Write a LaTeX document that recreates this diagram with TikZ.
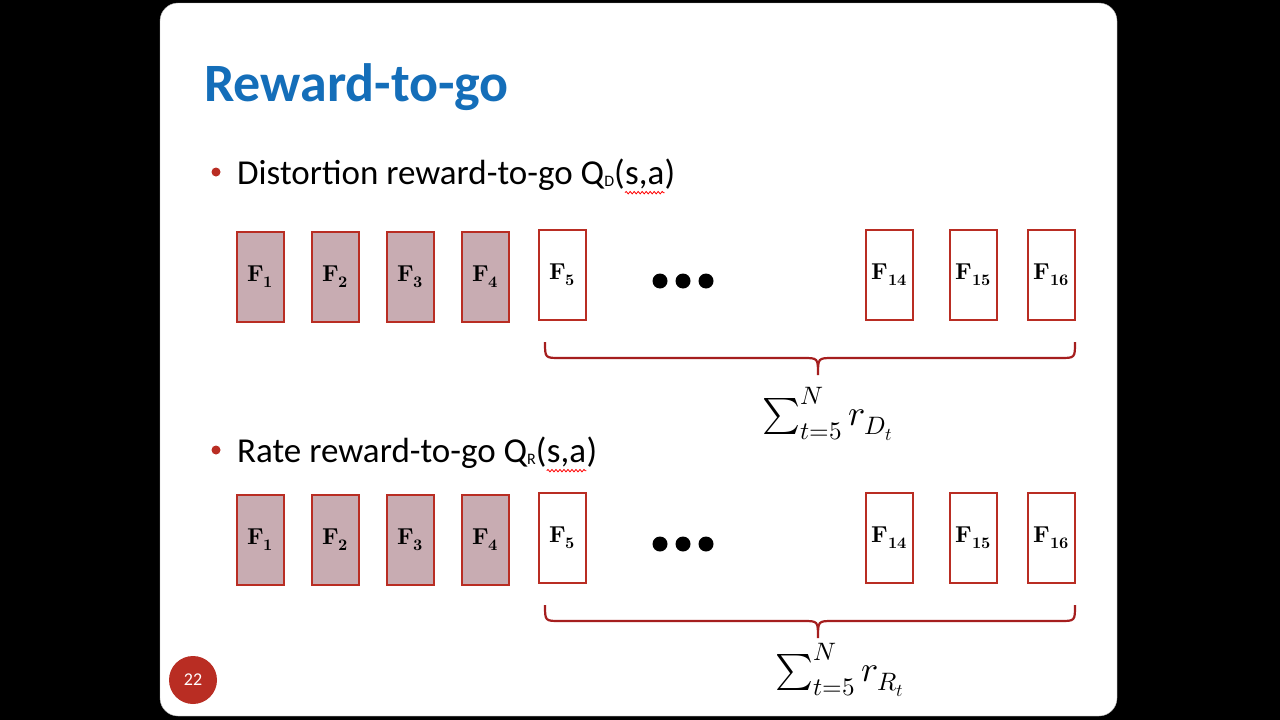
\documentclass[tikz,border=0pt]{standalone}
\usepackage{fontspec}
\setmainfont{Carlito}
\usepackage{unicode-math}
\setmathfont{Latin Modern Math}
\usetikzlibrary{decorations.pathmorphing}
\definecolor{tblue}{RGB}{20,110,185}
\definecolor{dred}{RGB}{185,45,35}
\definecolor{bred}{RGB}{165,30,30}
\definecolor{shade}{RGB}{200,172,178}
\tikzset{
 fr/.style={draw=dred,line width=1.6pt,minimum width=47pt,minimum height=90pt,inner sep=0pt,font=\fontsize{23}{25}\selectfont\bfseries\rmfamily},
 fs/.style={fr,fill=shade},
 brc/.style={draw=bred,line width=2.2pt},
 bul/.style={circle,fill=dred,inner sep=0pt,minimum size=9pt},
 btxt/.style={anchor=base west,inner sep=0pt,font=\fontsize{35}{37}\selectfont},
 dotc/.style={circle,fill=black,inner sep=0pt,minimum size=15pt},
 sq/.style={red,line width=0.8pt,decorate,decoration={snake,amplitude=1.2pt,segment length=4pt}}
}
\newcommand{\frm}[1]{$\symbf{F}_{\symbf{#1}}$}
\begin{document}
\begin{tikzpicture}[x=1pt,y=-1pt]
\fill[black] (0,0) rectangle (1280,720);
\useasboundingbox (0,0) rectangle (1280,720);
\draw[fill=white,draw=gray!60,rounded corners=18pt] (160,3) rectangle (1117,716);
\node[anchor=west,inner sep=0pt,text=tblue,font=\fontsize{54}{58}\selectfont\bfseries] (title) at (204,87) {Reward-to-go};
\foreach \row/\dy/\lbl/\sub/\by/\fy in {1/0/Distortion/D/172/415, 2/263/Rate/R/450/668}{
 \node[bul] (b\row) at (216,\by) {};
 \node[btxt] (t\row) at (237,\by+12) {\lbl\ reward-to-go Q\raisebox{-0.15ex}{\fontsize{16}{17}\selectfont \sub}(};
 \node[btxt] (u\row) at (t\row.base east) {s,a};
 \node[btxt] (v\row) at (u\row.base east) {)};
 \draw[sq] ([yshift=-4pt]u\row.south west) -- ([yshift=-4pt]u\row.south east);
 \node[fs] (a\row1) at (260.5,277+\dy) {\frm{1}};
 \node[fs] (a\row2) at (335.5,277+\dy) {\frm{2}};
 \node[fs] (a\row3) at (410.5,277+\dy) {\frm{3}};
 \node[fs] (a\row4) at (485.5,277+\dy) {\frm{4}};
 \node[fr] (a\row5) at (562.5,275+\dy) {\frm{5}};
 \node[fr] (a\row14) at (889.5,275+\dy) {\frm{14}};
 \node[fr] (a\row15) at (973.5,275+\dy) {\frm{15}};
 \node[fr] (a\row16) at (1051.5,275+\dy) {\frm{16}};
 \node[dotc] (d\row1) at (660,281+\dy) {};
 \node[dotc] (d\row2) at (683,281+\dy) {};
 \node[dotc] (d\row3) at (706,281+\dy) {};
 \draw[brc] (545,342+\dy) .. controls (545,358+\dy) .. (560,358+\dy) -- (803,358+\dy) .. controls (818,358+\dy) .. (818,375+\dy) .. controls (818,358+\dy) .. (833,358+\dy) -- (1060,358+\dy) .. controls (1075,358+\dy) .. (1075,342+\dy);
}
\node[inner sep=0pt,font=\fontsize{36}{38}\selectfont] (s1) at (828,414) {$\sum_{t=5}^{N} r_{D_t}$};
\node[inner sep=0pt,font=\fontsize{36}{38}\selectfont] (s2) at (840,670) {$\sum_{t=5}^{N} r_{R_t}$};
\node[circle,fill=dred,minimum size=48pt,inner sep=0pt,text=white,font=\fontsize{18}{20}\selectfont] (pg) at (193,680) {22};
\end{tikzpicture}
\end{document}
